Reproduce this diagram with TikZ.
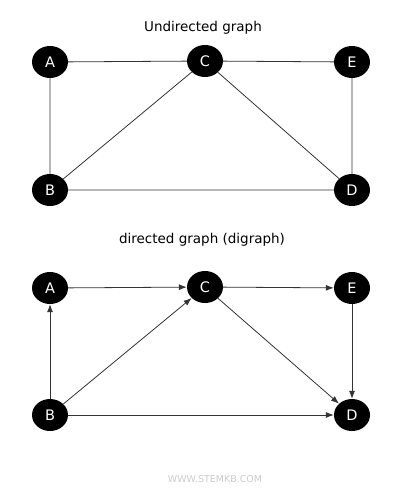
\documentclass[tikz,border=0pt]{standalone}
\usepackage{fontspec}
\setmainfont{DejaVu Sans}
\usetikzlibrary{arrows.meta,shapes.geometric}
\begin{document}
\begin{tikzpicture}[>={Latex[length=8pt,width=6pt]},x=1pt,y=-1pt,font=\fontsize{13.5}{15}\selectfont,
	vertex/.style={ellipse,fill=black,text=white,font=\fontsize{14.5}{16}\selectfont,minimum width=36pt,minimum height=32pt,inner sep=0pt},
	edge/.style={draw=black!80,line width=0.8pt}]
	\useasboundingbox (0,0) rectangle (400,500);
	% undirected graph
	\node (title1) at (203,28) {Undirected graph};
	\node[vertex] (A1) at (50,62) {A};
	\node[vertex] (C1) at (205,61) {C};
	\node[vertex] (E1) at (352,62) {E};
	\node[vertex] (B1) at (50,190) {B};
	\node[vertex] (D1) at (352,190) {D};
	\draw[edge] (A1) -- (C1) -- (E1) -- (D1) -- (B1) -- (A1);
	\draw[edge] (B1) -- (C1) -- (D1);
	% directed graph
	\node (title2) at (202,240) {directed graph (digraph)};
	\node[vertex] (A2) at (50,288) {A};
	\node[vertex] (C2) at (205,287) {C};
	\node[vertex] (E2) at (352,288) {E};
	\node[vertex] (B2) at (50,415) {B};
	\node[vertex] (D2) at (352,415) {D};
	\draw[edge,->] (A2) -- (C2);
	\draw[edge,->] (C2) -- (E2);
	\draw[edge,->] (B2) -- (A2);
	\draw[edge,->] (B2) -- (C2);
	\draw[edge,->] (C2) -- (D2);
	\draw[edge,->] (E2) -- (D2);
	\draw[edge,->] (B2) -- (D2);
	\node[text=black!20,font=\fontsize{9.5}{11}\selectfont] (mark) at (215,479) {WWW.STEMKB.COM};
\end{tikzpicture}
\end{document}
